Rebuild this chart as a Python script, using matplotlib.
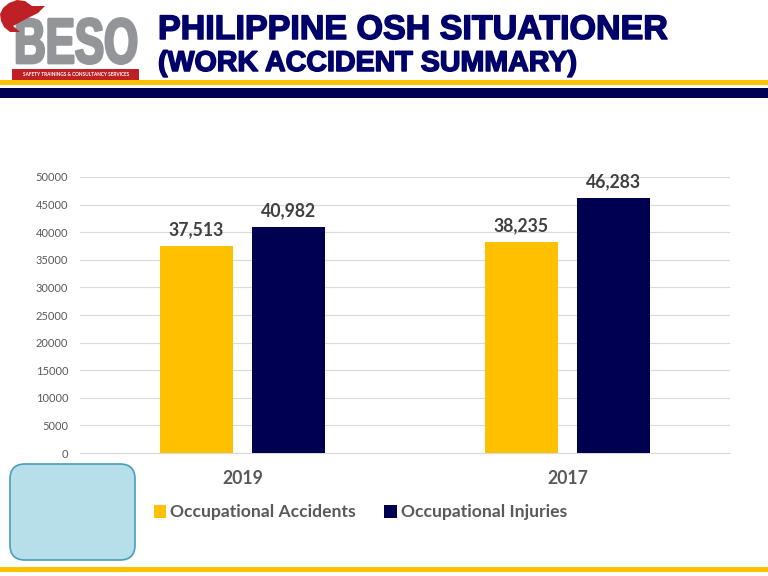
import matplotlib
matplotlib.use("Agg")
import matplotlib.pyplot as plt
import matplotlib.patheffects as pe
from matplotlib.patches import FancyBboxPatch, Rectangle, Polygon
from matplotlib.transforms import Affine2D
import numpy as np

years = ["2019", "2017"]
accidents = [37513, 38235]
injuries = [40982, 46283]
yticks = list(range(0, 50001, 5000))

GOLD = "#FFC000"
NAVY = "#000050"
TITLE = "#00006B"
GRAY = "#595959"
RED = "#BE2026"

plt.rcParams["font.family"] = ["Lato", "DejaVu Sans"]


# the logo lettering is tall and blocky, no installed font has that shape
class Stretch(pe.AbstractPathEffect):
    def __init__(self, sx, sy, cx, cy, lw):
        super().__init__()
        self.tr = Affine2D().translate(-cx, -cy).scale(sx, sy).translate(cx, cy)
        self.lw = lw

    def draw_path(self, renderer, gc, tpath, affine, rgbFace=None):
        gc.set_linewidth(self.lw)
        renderer.draw_path(gc, tpath, affine + self.tr, rgbFace)


fig = plt.figure(figsize=(7.68, 5.76), dpi=100)

# slide background, pixel coordinates
bg = fig.add_axes([0, 0, 1, 1])
bg.set_xlim(0, 768)
bg.set_ylim(576, 0)
bg.axis("off")

bg.add_patch(Rectangle((0, 80), 768, 5, color=GOLD, lw=0))
bg.add_patch(Rectangle((0, 88), 768, 10, color=NAVY, lw=0))
bg.add_patch(Rectangle((0, 567), 768, 5, color=GOLD, lw=0))

# logo
bg.text(76, 63, "BESO", family="Liberation Sans", weight="bold", fontsize=30,
        color="#939598", ha="center", va="baseline",
        path_effects=[Stretch(1.05, 1.53, 76, 576 - 63, 2.0)])
bg.add_patch(Rectangle((12, 69), 127, 11, color=RED, lw=0))
bg.text(76, 75, "SAFETY TRAININGS & CONSULTANCY SERVICES", fontsize=3.4, color="white",
        weight="bold", ha="center", va="center")
bg.add_patch(Polygon([(0, 14), (3, 8), (9, 3), (17, 0), (25, 1), (32, 6), (45, 6), (38, 13), (26, 19),
                      (13, 26), (20, 32), (10, 32), (4, 27), (1, 21)], closed=True, color=RED, lw=0, zorder=3))

# title
stroke = [pe.withStroke(linewidth=1.1, foreground=TITLE)]
bg.text(158, 39, "PHILIPPINE OSH SITUATIONER", family="Liberation Sans", weight="bold",
        fontsize=24.5, color=TITLE, va="baseline", path_effects=stroke)
bg.text(158, 71, "(WORK ACCIDENT SUMMARY)", family="Liberation Sans", weight="bold",
        fontsize=20.6, color=TITLE, va="baseline", path_effects=stroke)

# empty rounded box bottom left
bg.add_patch(FancyBboxPatch((25, 479), 95, 66, boxstyle="round,pad=15,rounding_size=15",
                            facecolor="#B7DFEA", edgecolor="#4A9DB8", lw=1.2))

# chart
ax = fig.add_axes([80 / 768, 123 / 576, 650 / 768, 276 / 576])
ax.patch.set_alpha(0)
x = np.arange(len(years))
width = 0.225
offset = 0.1415
b1 = ax.bar(x - offset, accidents, width, color=GOLD, label="Occupational Accidents", zorder=3)
b2 = ax.bar(x + offset, injuries, width, color=NAVY, label="Occupational Injuries", zorder=3)

for bars in (b1, b2):
    ax.bar_label(bars, labels=[f"{b.get_height():,.0f}" for b in bars], padding=5.5,
                 fontsize=12.7, weight="bold", color="#404040")

ax.set_xlim(-0.5, 1.5)
ax.set_ylim(0, 50000)
ax.set_yticks(yticks)
ax.set_xticks(x)
ax.set_xticklabels(years, fontsize=12.7, weight="bold", color=GRAY)
ax.tick_params(axis="y", length=0, labelsize=8, labelcolor=GRAY, pad=8.5)
ax.tick_params(axis="x", length=0, pad=12)
ax.grid(axis="y", color="#D9D9D9", lw=0.8, zorder=0)
ax.set_axisbelow(True)
for side in ("top", "right", "left"):
    ax.spines[side].set_visible(False)
ax.spines["bottom"].set_color("#D9D9D9")

fig.legend(handles=[b1, b2], loc="center", bbox_to_anchor=(360.5 / 768, 1 - 512.5 / 576), ncol=2,
           frameon=False, handlelength=0.7, handleheight=0.7, handletextpad=0.25,
           columnspacing=1.6, labelcolor=GRAY, prop={"family": "Lato", "weight": "bold", "size": 12.6})

fig.savefig("out.png", dpi=100)
